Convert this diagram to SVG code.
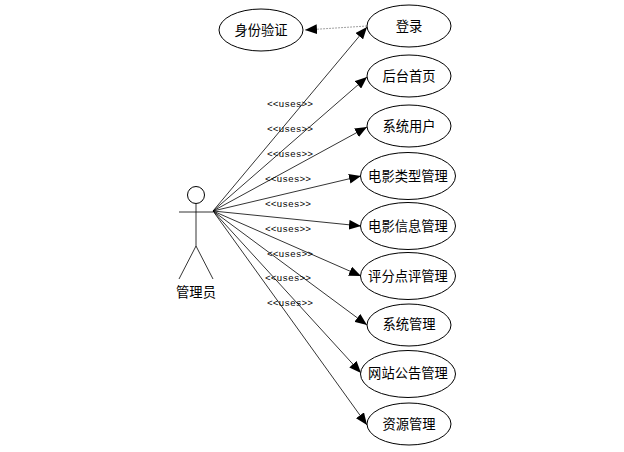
<svg xmlns="http://www.w3.org/2000/svg" width="624" height="452" viewBox="0 0 624 452">
<defs>
<marker id="arrow" markerUnits="userSpaceOnUse" markerWidth="12" markerHeight="10" refX="11" refY="4.500" orient="auto" viewBox="0 0 11 9"><path d="M0 0L11 4.500L0 9Z" fill="#000"/></marker>
</defs>
<style>
text{font-family:"Noto Sans CJK SC","Liberation Sans",sans-serif;font-size:13.300px;fill:#000;text-anchor:middle}
text.u{font-family:"Liberation Mono","DejaVu Sans Mono",monospace;font-size:9.600px}
ellipse{fill:#fff;stroke:#000;stroke-width:1}
line{stroke:#000;stroke-width:.8;fill:none}
.c line{marker-end:url(#arrow)}
line.d{stroke:#888;stroke-dasharray:2 1}
</style>
<rect width="624" height="452" fill="#fff"/>
<g id="connectors" class="c">
<line x1="213" y1="211" x2="367" y2="27"/>
<line x1="213" y1="211" x2="367" y2="77"/>
<line x1="213" y1="211" x2="367" y2="127"/>
<line x1="213" y1="211" x2="361" y2="176"/>
<line x1="213" y1="211" x2="361" y2="226"/>
<line x1="213" y1="211" x2="361" y2="276"/>
<line x1="213" y1="211" x2="367" y2="325"/>
<line x1="213" y1="211" x2="361" y2="373"/>
<line x1="213" y1="211" x2="367" y2="425"/>
<line class="d" x1="367" y1="26" x2="305" y2="30"/>
</g>
<g id="labels">
<text class="u" x="290" y="106.500">&lt;&lt;uses&gt;&gt;</text>
<text class="u" x="290" y="131.500">&lt;&lt;uses&gt;&gt;</text>
<text class="u" x="290" y="156.500">&lt;&lt;uses&gt;&gt;</text>
<text class="u" x="288" y="181.500">&lt;&lt;uses&gt;&gt;</text>
<text class="u" x="288" y="206.500">&lt;&lt;uses&gt;&gt;</text>
<text class="u" x="288" y="231.500">&lt;&lt;uses&gt;&gt;</text>
<text class="u" x="290" y="256.500">&lt;&lt;uses&gt;&gt;</text>
<text class="u" x="288" y="280.500">&lt;&lt;uses&gt;&gt;</text>
<text class="u" x="290" y="305.500">&lt;&lt;uses&gt;&gt;</text>
</g>
<g id="actor">
<circle cx="196" cy="195" r="8.500" fill="#fff" stroke="#000"/>
<line x1="196" y1="204" x2="196" y2="246"/>
<line x1="179" y1="212" x2="213" y2="212"/>
<line x1="196" y1="246" x2="179" y2="279"/>
<line x1="196" y1="246" x2="213" y2="279"/>
<text x="196" y="296.500">管理员</text>
</g>
<g id="n-auth"><ellipse cx="261" cy="30" rx="42" ry="21"/><text x="261" y="34.500">身份验证</text></g>
<g id="n-login"><ellipse cx="409" cy="26" rx="42" ry="21"/><text x="409" y="30.500">登录</text></g>
<g id="n-home"><ellipse cx="409" cy="76" rx="42" ry="21"/><text x="409" y="80.500">后台首页</text></g>
<g id="n-users"><ellipse cx="409" cy="126" rx="42" ry="21"/><text x="409" y="130.500">系统用户</text></g>
<g id="n-type"><ellipse cx="408" cy="176" rx="47.500" ry="23.500"/><text x="408" y="180.500">电影类型管理</text></g>
<g id="n-info"><ellipse cx="408" cy="226" rx="47.500" ry="23.500"/><text x="408" y="230.500">电影信息管理</text></g>
<g id="n-rate"><ellipse cx="408" cy="276" rx="47.500" ry="23.500"/><text x="408" y="280.500">评分点评管理</text></g>
<g id="n-sys"><ellipse cx="409" cy="325" rx="42" ry="21"/><text x="409" y="329">系统管理</text></g>
<g id="n-notice"><ellipse cx="408" cy="374" rx="47.500" ry="23.500"/><text x="408" y="378">网站公告管理</text></g>
<g id="n-res"><ellipse cx="409" cy="424" rx="42" ry="21"/><text x="409" y="428.500">资源管理</text></g>
</svg>
